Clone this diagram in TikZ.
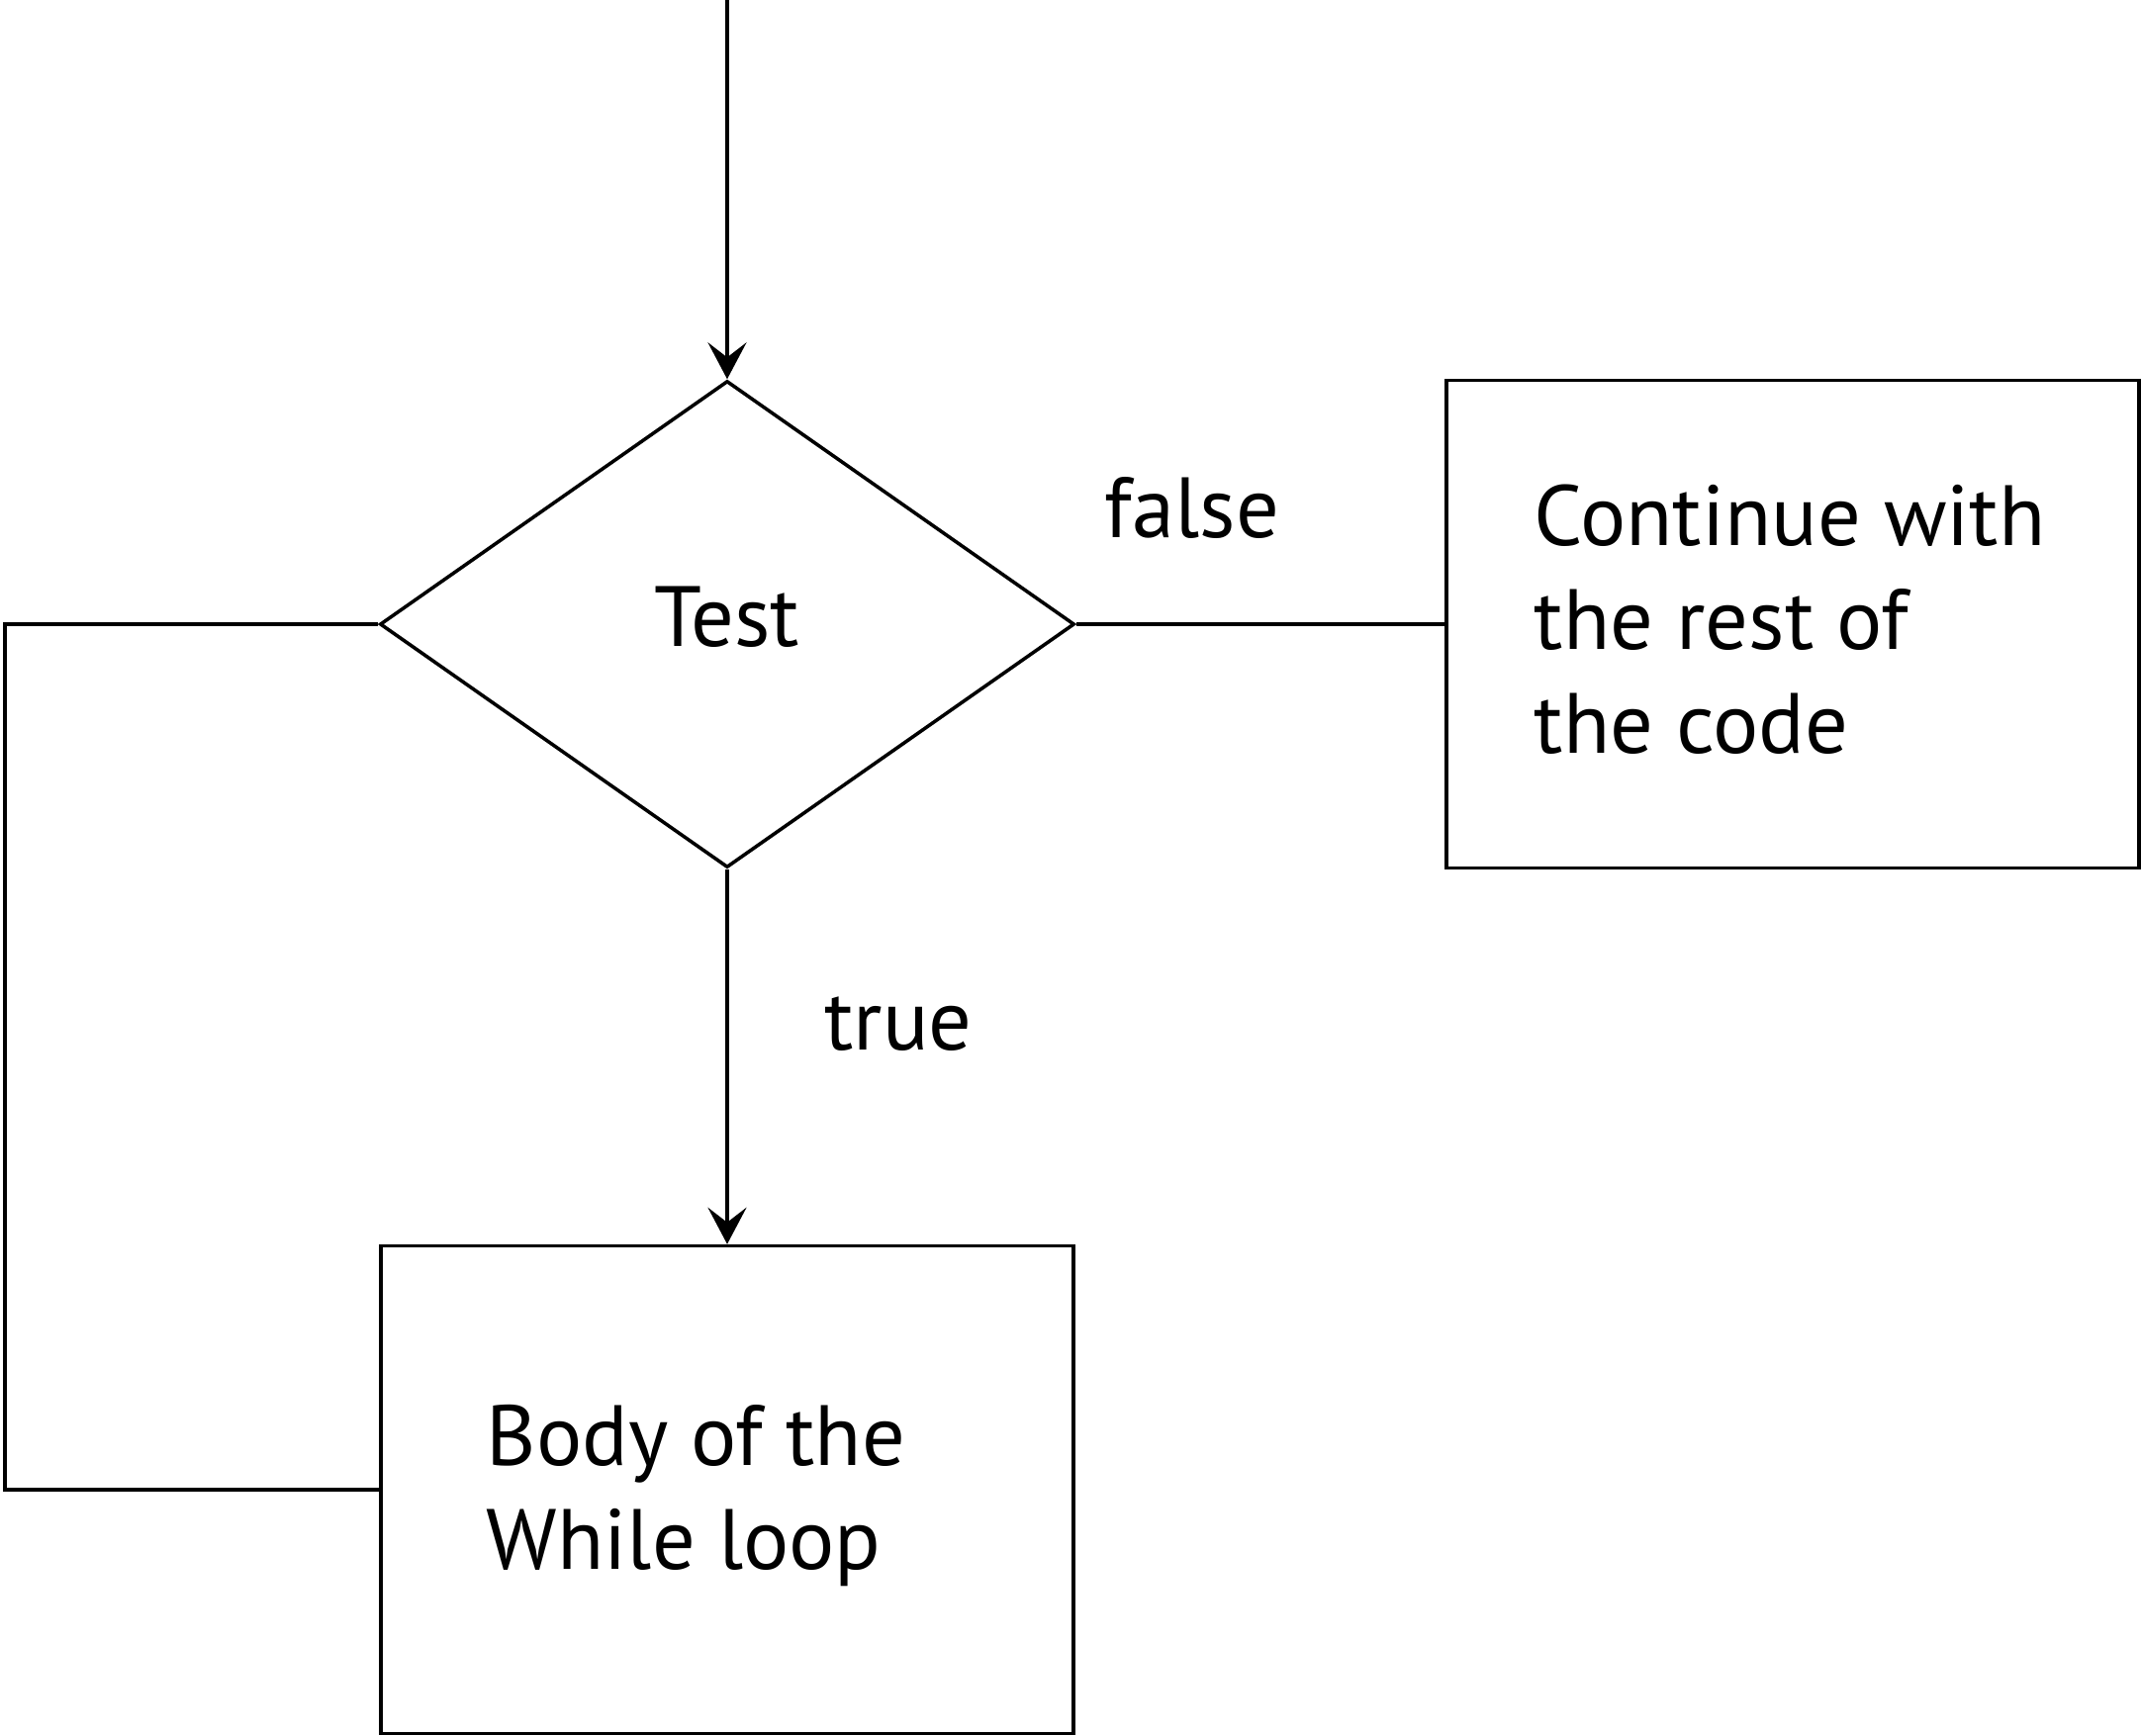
\documentclass[tikz,border=0pt]{standalone}
\usepackage{fontspec}
\setmainfont{PT Sans}
\usepackage{tikz}
\usetikzlibrary{shapes.geometric}
\usetikzlibrary{arrows.meta}

\begin{document}
\begin{tikzpicture}[
		line width=1pt,
		>={Stealth[length=3.7mm,width=3.9mm,inset=1.5mm]},
		label/.style={font=\fontsize{24.6}{29.9}\selectfont, inner sep=0pt},
		box/.style={draw, rectangle, minimum width=7cm, minimum height=4.93cm, inner sep=0pt},
		decision/.style={draw, diamond, minimum width=7.02cm, minimum height=4.92cm, inner sep=0pt}
	]
		\useasboundingbox (0,0) rectangle (21.64,-17.54);
		
		\coordinate (start) at (7.35,0);
		\coordinate (loopTop) at (0.05,-6.31);
		
		\node[decision] (test) at (7.35,-6.31) {};
		\node[box] (rest) at (18.12,-6.31) {};
		\node[box] (body) at (7.35,-15.06) {};
		
		\node[label] (testText) at (7.35,-6.24) {Test};
		\node[label, anchor=west, align=left] (restText) at (15.49,-6.26) {Continue with\\the rest of\\the code};
		\node[label, anchor=west, align=left] (bodyText) at (4.90,-15.12) {Body of the\\While loop};
		
		\node[label] (false) at (12.05,-5.13) {false};
		\node[label] (true) at (9.08,-10.35) {true};
		
		\draw[->] (start) -- (test.north);
		\draw[->] (test.south) -- (body.north);
		\draw (test.east) -- (rest.west);
		\draw (test.west) -- (loopTop) |- (body.west);
	\end{tikzpicture}
\end{document}
